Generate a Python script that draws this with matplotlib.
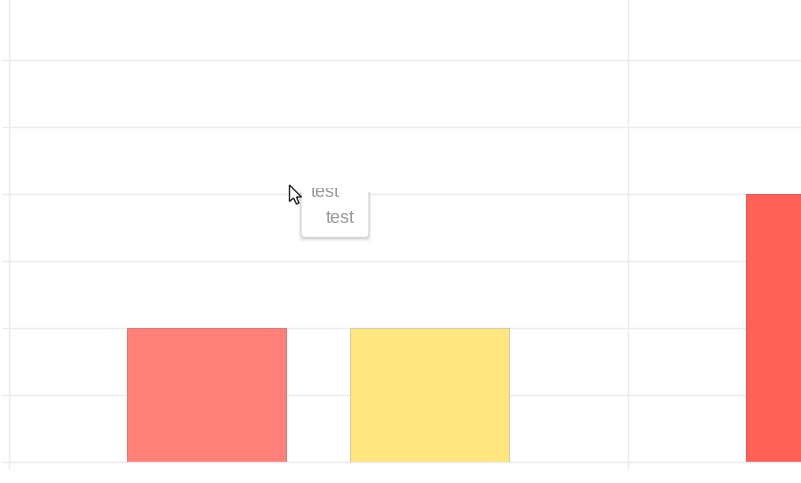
"""Two-series bar chart cropped by the viewport, with a tooltip and mouse pointer."""

import matplotlib
matplotlib.use("Agg")
import matplotlib.pyplot as plt
from matplotlib.patches import FancyBboxPatch, Polygon
from matplotlib.path import Path
from matplotlib.transforms import Bbox

W, H = 801, 483

# Data
categories = [0, 1]
series_a = [2, 4]
series_b = [2]
y_ticks = [0, 1, 2, 3, 4, 5, 6]
tooltip_lines = ["test", "test"]

GRID = "#ebebeb"

plt.rcParams["font.family"] = ["Liberation Sans", "DejaVu Sans"]

fig = plt.figure(figsize=(W / 100, H / 100), dpi=100, facecolor="white")

# ── Chart ──────────────────────────────────────────────────────────────
left, base = 8.5, 461.8
ax = fig.add_axes([left / W, (H - base) / H, (W - left) / W, base / H])
cat_w = 619.0
ax.set_xlim(-0.5, -0.5 + (W - left) / cat_w)
ax.set_ylim(0, base / 66.9)

bar_w = 159.5 / cat_w
offset = 0.18
ax.bar(categories[0] - offset, series_a[0], width=bar_w,
       color="#ff8078", edgecolor="#d07c78", linewidth=0.8, zorder=2)
ax.bar(categories[1] - offset, series_a[1], width=bar_w,
       color="#ff6058", edgecolor="#d0625c", linewidth=0.8, zorder=2)
ax.bar(categories[0] + offset, series_b[0], width=bar_w,
       color="#ffe680", edgecolor="#d2cfa8", linewidth=0.8, zorder=2)

ax.set_yticks(y_ticks)
ax.set_xticks([-0.5, 0.5])
ax.set_xticklabels([])
ax.set_yticklabels([])
ax.tick_params(length=5, width=1, color=GRID)
ax.grid(True, color=GRID, linewidth=1)
ax.set_axisbelow(True)
for side in ("top", "right"):
    ax.spines[side].set_visible(False)
for side in ("left", "bottom"):
    ax.spines[side].set_color(GRID)
    ax.spines[side].set_linewidth(1)

# ── Tooltip and pointer, in pixel coordinates ──────────────────────────
ov = fig.add_axes([0, 0, 1, 1], facecolor="none")
ov.set_xlim(0, W)
ov.set_ylim(H, 0)
ov.axis("off")


def clip_below(artist, y):
    """Hide whatever the artist draws above pixel row y."""
    box = Path([(0, y), (W, y), (W, H), (0, H), (0, y)], closed=True)
    artist.set_clip_path(box, transform=ov.transData)


# soft shadow under the tooltip
for grow, alpha in [(4, 0.02), (3, 0.03), (2, 0.04), (1, 0.06)]:
    shadow = ov.add_patch(FancyBboxPatch((301 - grow + 1, 170), 68 + 2 * grow - 2, 67 + grow + 1,
                                         boxstyle="round,pad=0,rounding_size=4",
                                         fc="black", ec="none", alpha=alpha))
    clip_below(shadow, 192)

box = ov.add_patch(FancyBboxPatch((301, 170), 68, 67.5,
                                  boxstyle="round,pad=0,rounding_size=4",
                                  fc="white", ec="#d4d4d4", lw=0.9))
clip_below(box, 192)

# text ignores clip paths in Agg, it needs a clip box in display units
first = ov.text(311, 197, tooltip_lines[0], fontsize=13, color="#999999",
                ha="left", va="baseline")
first.set_clip_box(Bbox([[0, 0], [W, H - 188]]))
first.set_clip_on(True)
ov.text(326, 223, tooltip_lines[1], fontsize=13, color="#999999",
        ha="left", va="baseline")

ov.add_patch(Polygon([(289.5, 185), (289.5, 201.5), (293.5, 198), (296.5, 204),
                      (299, 203), (296.5, 197), (301.5, 197)],
                     closed=True, fc="white", ec="#222222", lw=1, zorder=6))

fig.savefig("out.png", dpi=100)
